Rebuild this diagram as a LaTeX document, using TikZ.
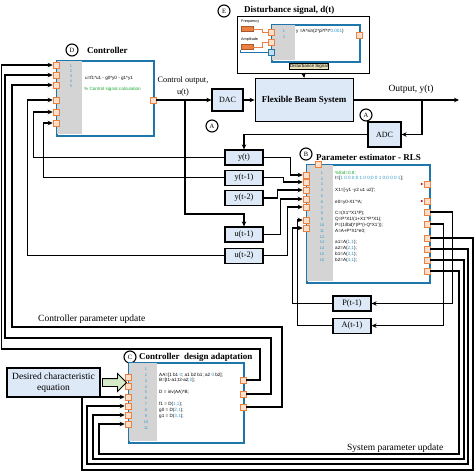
\documentclass[tikz,border=0pt]{standalone}
\usepackage{fontspec}
\setmainfont{Liberation Serif}
\setsansfont{Liberation Sans}
\usepackage{tikz}
\usetikzlibrary{calc}
\usetikzlibrary{arrows.meta}
\usetikzlibrary{positioning}
\usetikzlibrary{shapes.arrows}

\definecolor{lvblue}{RGB}{30,118,170}
\definecolor{boxblue}{RGB}{221,233,247}
\definecolor{tmorange}{RGB}{236,128,64}
\definecolor{tmfill}{RGB}{253,224,204}
\definecolor{codegreen}{RGB}{30,170,50}
\definecolor{codecyan}{RGB}{40,150,200}
\definecolor{stripgray}{RGB}{212,212,212}
\definecolor{hollowgreen}{RGB}{214,236,200}
\definecolor{sigtan}{RGB}{232,224,186}

\tikzset{
  wire/.style={line width=1.2pt, -{Stealth[length=5pt,width=4.5pt]}},
  blk/.style={draw, line width=1.2pt, fill=boxblue, inner sep=1pt, font=\fontsize{8}{9}\selectfont},
  dly/.style={blk, minimum width=38pt, minimum height=15pt, font=\fontsize{8.3}{9}\selectfont},
  fnode/.style={draw=lvblue, line width=2.4pt, fill=white, inner sep=0pt, anchor=north west},
  term/.style={draw=tmorange, fill=tmfill, line width=0.5pt, minimum width=6pt, minimum height=6pt, inner sep=0pt},
  tag/.style={circle, draw, line width=1.1pt, inner sep=0pt, minimum size=12pt, font=\fontsize{6.5}{7}\selectfont},
  title/.style={anchor=west, inner sep=0pt, font=\fontsize{9}{10}\selectfont\bfseries},
  lbl/.style={inner sep=0pt, font=\fontsize{9.5}{11}\selectfont},
  code/.style={anchor=west, inner sep=0pt, font=\fontsize{4.6}{5}\selectfont\sffamily},
  lnum/.style={inner sep=0pt, text=codecyan, font=\fontsize{3.8}{4}\selectfont\sffamily},
}

\begin{document}
\begin{tikzpicture}[x=1pt,y=-1pt]
\useasboundingbox (0,0) rectangle (474,474);

% controller D
\node[tag] (tagD) at (72,50) {D};
\node[title] (ctltitle) at (87,50) {Controller};
\node[fnode, minimum width=97pt, minimum height=75pt] (ctl) at (56,60) {};
\fill[stripgray] (57.3,61.3) rectangle (82,133.7);
\foreach \k in {1,...,5}
  \node[lnum] (cnum\k) at (71,61+5*\k) {\k};
\node[code] (ccode1) at (85,78) {u=f1*u1 - g0*y0 - g1*y1};
\node[code, text=codegreen] (ccode2) at (84,89) {\% Control signal calculation};
\foreach \k/\yy in {1/65,2/75,3/85,4/100,5/112,6/123}
  \node[term] (ci\k) at (56,\yy) {};
\node[term] (co) at (153,100) {};

% plant, converters
\node[blk, minimum width=31pt, minimum height=22pt] (dac) at (227.5,100) {DAC};
\node[blk, minimum width=98pt, minimum height=43pt, right=11pt of dac, font=\fontsize{9}{10}\selectfont\bfseries] (plant) {Flexible Beam System};
\node[tag] (tagA1) at (212,126) {A};
\node[blk, minimum width=33pt, minimum height=25pt] (adc) at (384.5,134.5) {ADC};
\node[tag] (tagA2) at (366,115) {A};
\coordinate (ubr) at (185,100);
\coordinate (ybr) at (422,100);
\coordinate (yend) at (459,100);
\node[lbl, align=center, font=\fontsize{8.3}{12}\selectfont] (ulabel) at (183,87) {Control output,\\u(t)};
\node[lbl] (ylabel) at (411,89) {Output, y(t)};

% disturbance E
\node[tag] (tagE) at (224,11) {E};
\node[title] (disttitle) at (244,10) {Disturbance signal, d(t)};
\node[draw, line width=1.4pt, minimum width=132pt, minimum height=57pt, anchor=north west, inner sep=0pt] (dist) at (237,16) {};
\node[fnode, minimum width=88pt, minimum height=37pt] (dfn) at (271,24) {};
\fill[stripgray] (272.3,25.3) rectangle (295,59.7);
\node[lnum] (dnum1) at (284,31) {1};
\node[lnum] (dnum2) at (284,37) {2};
\node[code] (dcode) at (296,31) {y =A*sin(2*pi*f*t*\textcolor{codecyan}{0.001})};
\node[code, font=\fontsize{3.8}{4}\selectfont\sffamily] (freqlbl) at (241,22) {Frequency};
\node[code, font=\fontsize{3.8}{4}\selectfont\sffamily] (amplbl) at (241,40) {Amplitude};
\node[draw=tmorange!70!black, fill=tmorange, minimum width=12pt, minimum height=5pt, inner sep=0pt] (freq) at (247,29) {};
\node[draw=tmorange!70!black, fill=tmorange, minimum width=12pt, minimum height=5pt, inner sep=0pt] (amp) at (247,47) {};
\node[term] (dti1) at (271,32) {};
\node[term] (dti2) at (271,42) {};
\node[term, draw=lvblue, fill=lvblue!25] (dti3) at (271,52) {};
\node[term] (dto) at (359,35) {};
\draw[tmorange, line width=0.8pt] (freq.east) -- ++(9,0) |- (dti1.west);
\draw[tmorange, line width=0.8pt] (amp.east) -- ++(9,0) |- (dti2.west);
\draw[lvblue, line width=0.8pt] (amp.south west) |- (dti3.west);
\node[draw, fill=sigtan, inner sep=0.8pt, font=\fontsize{4.5}{5}\selectfont\sffamily] (dsig) at (309,66) {Disturbance Signal};

% delay blocks
\node[dly] (yt) at (244,157.5) {y(t)};
\node[dly, below=4pt of yt] (yt1) {y(t-1)};
\node[dly, below=4pt of yt1] (yt2) {y(t-2)};
\node[dly] (ut1) at (244,234.5) {u(t-1)};
\node[dly, below=5pt of ut1] (ut2) {u(t-2)};
\node[dly] (pt1) at (352,303.5) {P(t-1)};
\node[dly, below=6pt of pt1] (at1) {A(t-1)};

% estimator B
\node[tag] (tagB) at (306,154) {B};
\node[title] (rlstitle) at (316,157) {Parameter estimator - RLS};
\node[fnode, minimum width=123pt, minimum height=118pt] (rls) at (306,164) {};
\fill[stripgray] (307.3,165.3) rectangle (333,280.7);
\foreach \k in {1,...,16}
  \node[lnum] (rnum\k) at (322,167.2+5.8*\k) {\k};
\node[code, text=codegreen] (rc1) at (335,173) {\%lbd=0.8;};
\node[code] (rc2) at (335,178.8) {I=[\textcolor{codecyan}{1 0 0 0;0 1 0 0;0 0 1 0;0 0 0 1}];};
\node[code] (rc4) at (335,190.4) {X1=[-y1 -y2 u1 u2]';};
\node[code] (rc6) at (335,202) {e0=y0-X1'*A;};
\node[code] (rc8) at (335,213.6) {C=(X1'*X1*P);};
\node[code] (rc9) at (335,219.4) {Q=P*X1/(1+X1'*P*X1);};
\node[code] (rc10) at (335,225.2) {P=(1/lbd)*(P*(I-Q*X1'));};
\node[code] (rc11) at (335,231) {A=A+P*X1*e0;};
\node[code] (rc13) at (335,242.6) {a1=A(\textcolor{codecyan}{1,1});};
\node[code] (rc14) at (335,248.4) {a2=A(\textcolor{codecyan}{2,1});};
\node[code] (rc15) at (335,254.2) {b1=A(\textcolor{codecyan}{3,1});};
\node[code] (rc16) at (335,260) {b2=A(\textcolor{codecyan}{4,1});};
\node[term] (rtop) at (318,164) {};
\foreach \k/\yy in {1/175,2/182,3/190,4/199,5/207,6/220,7/228}
  \node[term] (ri\k) at (306,\yy) {};
\foreach \k/\yy in {1/184,2/201,3/212,4/224,5/238,6/249,7/260,8/271}
  \node[term] (ro\k) at (427,\yy) {};
\fill[red!80!black] ($(ro1.west)+(-2,0)$) circle (1.2pt);
\fill[red!80!black] ($(ro2.west)+(-2,0)$) circle (1.2pt);

% design adaptation C
\node[tag] (tagC) at (130,357) {C};
\node[title] (cdatitle) at (139,357) {Controller\ \ design adaptation};
\node[fnode, minimum width=115pt, minimum height=80pt] (cda) at (128,362) {};
\fill[stripgray] (129.3,363.3) rectangle (157,440.7);
\foreach \k in {1,...,11}
  \node[lnum] (anum\k) at (146,363.1+5.9*\k) {\k};
\node[code] (ac2) at (159,375) {AA=[1 b1 \textcolor{codecyan}{0}; a1 b2 b1; a2 \textcolor{codecyan}{0} b2];};
\node[code] (ac3) at (159,380.8) {B=[t1-a1;t2-a2;\textcolor{codecyan}{0}];};
\node[code] (ac5) at (159,392.6) {D = inv(AA)*B;};
\node[code] (ac7) at (159,404.4) {f1 = D(\textcolor{codecyan}{1,1});};
\node[code] (ac8) at (159,410.3) {g0 = D(\textcolor{codecyan}{2,1});};
\node[code] (ac9) at (159,416.2) {g1 = D(\textcolor{codecyan}{3,1});};
\foreach \k/\yy in {1/377,2/386,3/397,4/406,5/415,6/424}
  \node[term] (cti\k) at (128,\yy) {};
\foreach \k/\yy in {1/380,2/394,3/407}
  \node[term] (cto\k) at (243,\yy) {};
\node[blk, minimum width=93pt, minimum height=29pt, align=center, font=\fontsize{9.5}{11}\selectfont] (dce) at (53.5,382.5) {Desired characteristic\\equation};
\node[single arrow, draw, fill=hollowgreen, line width=0.9pt, minimum height=24pt, inner sep=3.5pt, single arrow head extend=5pt, anchor=tail] (harr) at (102,382.5) {};

% labels of the update loops
\node[lbl, anchor=west] (cpu) at (38,319) {Controller parameter update};
\node[lbl, anchor=west] (spu) at (347,448) {System parameter update};

% forward path
\draw[wire] (co.east) -- (dac.west);
\draw[wire] (dac.east) -- (plant.west);
\draw[wire] (dist.south) -- (plant.north);
\draw[wire] (plant.east) -- (yend);
\draw[wire] (ybr) |- (adc.east);
\draw[wire] (adc.west) -| (yt.north);
\draw[wire] (ubr) -- ++(0,114) -| (ut1.north);

% delays to controller
\draw[wire] (ut2.west) -- ++(-197,0) |- (ci4.west);
\draw[wire] (yt.west) -- ++(-191,0) |- (ci5.west);
\draw[wire] (yt1.west) -- ++(-181,0) |- (ci6.west);

% delays to estimator
\draw[wire] (yt.east) -- ++(27,0) |- (ri1.west);
\draw[wire] (yt1.east) -- ++(20,0) |- (ri2.west);
\draw[wire] (yt2.east) -- ++(14,0) |- (ri3.west);
\draw[wire] (ut1.east) -- ++(17,0) |- (ri4.west);
\draw[wire] (ut2.east) -- ++(24,0) |- (ri5.west);
\draw[wire] (ro3.east) -- ++(22,0) |- (pt1.east);
\draw[wire] (ro4.east) -- ++(13,0) |- (at1.east);
\draw[wire] (pt1.west) -- ++(-40,0) |- (ri7.west);
\draw[wire] (at1.west) -- ++(-35,0) |- (ri6.west);

% system parameter update
\draw[wire] (ro5.east) -| (473,470) -| (82,397) -- (cti3.west);
\draw[wire] (ro6.east) -| (468,464) -| (87,406) -- (cti4.west);
\draw[wire] (ro7.east) -| (464,459) -| (93,415) -- (cti5.west);
\draw[wire] (ro8.east) -| (459,454) -| (99,424) -- (cti6.west);

% controller parameter update
\draw[wire] (cto1.east) -| (260,349) -| (1.5,65) -- (ci1.west);
\draw[wire] (cto2.east) -| (271,338) -| (5,75) -- (ci2.west);
\draw[wire] (cto3.east) -| (282,327) -| (12,85) -- (ci3.west);

\end{tikzpicture}
\end{document}
